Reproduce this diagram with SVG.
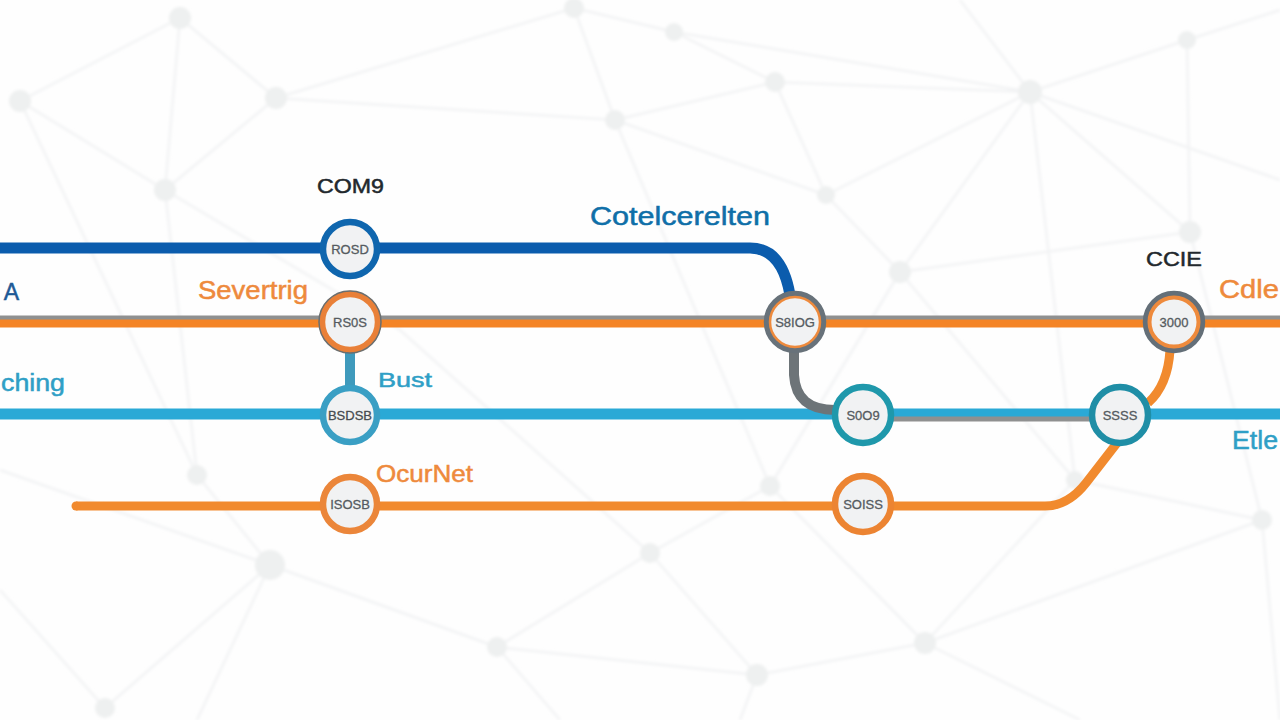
<svg xmlns="http://www.w3.org/2000/svg" width="1280" height="720" viewBox="0 0 1280 720">
<style>
.bg{stroke:#f2f3f4;stroke-width:2.500;fill:none}
.bd{fill:#eef0f0}
.ln{fill:none;stroke-linecap:butt}
.nd{fill:#f1f2f3;stroke-width:6.500}
.id{font-family:"Liberation Sans",Arial,sans-serif;font-size:13px;fill:#555b60;text-anchor:middle;stroke:#555b60;stroke-width:.3}
.lb{font-family:"Liberation Sans",Arial,sans-serif;font-size:24px;stroke-width:.5}
.blk{fill:#22282d;stroke:#22282d;font-size:21px}
.org{fill:#ee8a3c;stroke:#ee8a3c}
.cy{fill:#2f9fc6;stroke:#2f9fc6}
.bl{fill:#0f6fa8;stroke:#0f6fa8}
</style>
<defs><filter id="soft" x="-5%" y="-5%" width="110%" height="110%"><feGaussianBlur stdDeviation="1.600"/></filter></defs>
<rect width="1280" height="720" fill="#fefefe"/>
<g id="background" filter="url(#soft)">
<path class="bg" d="M180 18 20 101 165 190 276 98 180 18 165 190M276 98 574 8 615 120 276 98 165 190 197 475 20 101M574 8 674 32 775 82 615 120 826 195 775 82 1030 92 1187 40 1190 232 1030 92 826 195 900 272 1030 92 1280 180M674 32 1030 92M1187 40 1280 10M960 0 1030 92M1190 232 900 272 770 486 650 553 497 647 270 565 105 708 0 590M165 190 400 330 650 553 770 486 925 643 757 675 650 553M197 475 270 565 0 470M900 272 1075 480 1262 520 1190 232M1075 480 925 643 1262 520 1280 720M925 643 1080 720M497 647 560 720M497 647 757 675M270 565 197 720M757 675 740 720M1030 92 1075 480M615 120 770 486"/>
<g class="bd"><circle cx="180" cy="18" r="11"/><circle cx="574" cy="8" r="10"/><circle cx="674" cy="32" r="9"/><circle cx="1187" cy="40" r="9"/><circle cx="20" cy="101" r="11"/><circle cx="276" cy="98" r="11"/><circle cx="615" cy="120" r="10"/><circle cx="775" cy="82" r="10"/><circle cx="1030" cy="92" r="12"/><circle cx="165" cy="190" r="11"/><circle cx="826" cy="195" r="9"/><circle cx="1190" cy="232" r="11"/><circle cx="900" cy="272" r="11"/><circle cx="197" cy="475" r="10"/><circle cx="770" cy="486" r="10"/><circle cx="1075" cy="480" r="9"/><circle cx="270" cy="565" r="15"/><circle cx="650" cy="553" r="10"/><circle cx="1262" cy="520" r="10"/><circle cx="497" cy="647" r="10"/><circle cx="925" cy="643" r="11"/><circle cx="757" cy="675" r="11"/><circle cx="105" cy="708" r="10"/></g>
</g>
<g id="connectors">
<path class="ln" d="M0 248H750Q782 248 790 295" stroke="#0b5cad" stroke-width="11"/>
<path class="ln" d="M0 319H1280" stroke="#8f9090" stroke-width="7"/>
<path class="ln" d="M0 323.500H1280" stroke="#f48426" stroke-width="8"/>
<path class="ln" d="M350 350V390" stroke="#3f9abc" stroke-width="10"/>
<path class="ln" d="M0 414H1280" stroke="#2aa9d6" stroke-width="11"/>
<path class="ln" d="M863 419H1100" stroke="#8f9090" stroke-width="5"/>
<path class="ln" d="M794 350V375Q796 410 835 410H850" stroke="#6d7478" stroke-width="10"/>
<path d="M76 506H1045Q1068 506 1086 483L1117 443M1148 403Q1168 385 1170 350" class="ln" stroke="#f18a2e" stroke-width="9"/>
<circle cx="76" cy="506" r="4.500" fill="#f18a2e"/>
</g>
<g id="n1"><circle class="nd" cx="350" cy="249" r="27" stroke="#0f66ae"/><text class="id" x="350" y="254">ROSD</text></g>
<g id="n2"><circle class="nd" cx="350" cy="322" r="28" stroke="#e98038"/><circle cx="350" cy="322" r="31" fill="none" stroke="#6a6f70" stroke-width="1.500"/><text class="id" x="350" y="327">RS0S</text></g>
<g id="n3"><circle class="nd" cx="350" cy="415" r="27" stroke="#3a9fc4"/><text class="id" x="350" y="420" style="fill:#3d4448">BSDSB</text></g>
<g id="n4"><circle class="nd" cx="350" cy="504" r="27" stroke="#eb863a"/><text class="id" x="350" y="509">ISOSB</text></g>
<g id="n5"><circle class="nd" cx="795" cy="322" r="28" stroke="#68727a"/><circle cx="795" cy="322" r="25" fill="none" stroke="#ee8a3c" stroke-width="2.500"/><text class="id" x="795" y="327">S8IOG</text></g>
<g id="n6"><circle class="nd" cx="863" cy="415" r="28" stroke="#1f98ab"/><text class="id" x="863" y="420">S0O9</text></g>
<g id="n7"><circle class="nd" cx="863" cy="504" r="28" stroke="#ec8432"/><text class="id" x="863" y="509">SOISS</text></g>
<g id="n8"><circle class="nd" cx="1174" cy="322" r="28" stroke="#646f78"/><circle cx="1174" cy="322" r="24.500" fill="none" stroke="#ee8a3c" stroke-width="4"/><text class="id" x="1174" y="327">3000</text></g>
<g id="n9"><circle class="nd" cx="1120" cy="415" r="28" stroke="#1f8ea6"/><text class="id" x="1120" y="420">SSSS</text></g>
<g id="labels">
<text class="lb blk" x="317" y="193" textLength="67" lengthAdjust="spacingAndGlyphs">COM9</text>
<text class="lb bl" x="590" y="225" textLength="180" lengthAdjust="spacingAndGlyphs" style="font-size:25px">Cotelcerelten</text>
<text class="lb blk" x="1146" y="266" textLength="56" lengthAdjust="spacingAndGlyphs">CCIE</text>
<text class="lb org" x="1219" y="298" textLength="60" lengthAdjust="spacingAndGlyphs" style="font-size:26px">Cdle</text>
<text class="lb org" x="198" y="299" textLength="110" lengthAdjust="spacingAndGlyphs" style="font-size:25px">Severtrig</text>
<text class="lb" x="19" y="300" text-anchor="end" style="fill:#1e5a96;stroke:#1e5a96;font-size:23px">A</text>
<text class="lb cy" x="1" y="391" textLength="64" lengthAdjust="spacingAndGlyphs" style="font-size:23px">ching</text>
<text class="lb cy" x="378" y="387" textLength="54" lengthAdjust="spacingAndGlyphs" style="font-size:21px">Bust</text>
<text class="lb org" x="376" y="482" textLength="97" lengthAdjust="spacingAndGlyphs">OcurNet</text>
<text class="lb cy" x="1232" y="449" textLength="46" lengthAdjust="spacingAndGlyphs" style="font-size:25px">Etle</text>
</g>
</svg>
